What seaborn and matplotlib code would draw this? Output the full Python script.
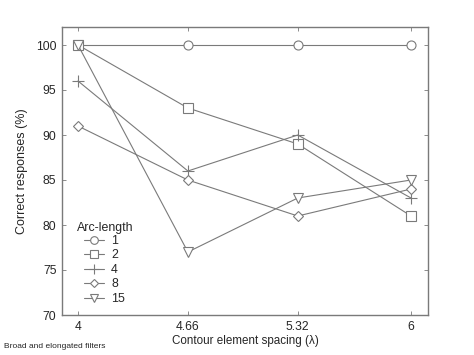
import pandas as pd
import numpy as np
import seaborn as sns
import matplotlib.pyplot as plt

spacing = [4, 4.66, 5.32, 6]
arc_lengths = ['1', '2', '4', '8', '15']
arc1 = [100, 100, 100, 100]
arc2 = [100, 93, 89, 81]
arc4 = [96, 86, 90, 83]
arc8 = [91, 85, 81, 84]
arc15 = [100, 77, 83, 85]

rows = []
for name, vals in zip(arc_lengths, [arc1, arc2, arc4, arc8, arc15]):
    for x, y in zip(spacing, vals):
        rows.append({'spacing': x, 'correct': y, 'Arc-length': name})
df = pd.DataFrame(rows)

sns.set_style('ticks')
plt.rcParams['font.family'] = ['Liberation Sans', 'DejaVu Sans']

W, H = 474, 355
fig = plt.figure(figsize=(W/100, H/100), dpi=100)
ax = fig.add_axes([62/W, 1-315/H, (428-62)/W, (315-27)/H])

grey = '#7a7a7a'
markers = {'1': 'o', '2': 's', '4': '+', '8': 'D', '15': 'v'}
msize = {'1': 6.5, '2': 6.5, '4': 8, '8': 5, '15': 7}
# seaborn won't mix filled and line markers in one call, so draw per group
for name in arc_lengths:
    sub = df[df['Arc-length'] == name]
    sns.lineplot(data=sub, x='spacing', y='correct', color=grey, marker=markers[name],
                 ax=ax, lw=0.8, markerfacecolor='white', markeredgecolor=grey,
                 markeredgewidth=0.8, markersize=msize[name], label=name)

ax.set_xlim(3.904, 6.102)
ax.set_ylim(70, 102)
ax.set_xticks(spacing)
ax.set_xticklabels(['4', '4.66', '5.32', '6'])
ax.set_yticks([70, 75, 80, 85, 90, 95, 100])
ax.tick_params(direction='in', top=True, right=True, labelsize=8.7, length=3, width=0.6, color=grey, pad=4)
for s in ax.spines.values():
    s.set_color(grey)
    s.set_linewidth(1.0)
ax.set_xlabel('Contour element spacing (\u03bb)', fontsize=8.4, labelpad=2)
ax.set_ylabel('Correct responses (%)', fontsize=9, labelpad=6)

leg = ax.legend(loc='upper left', bbox_to_anchor=(84/W, 1-235/H), bbox_transform=fig.transFigure,
                frameon=False, fontsize=8.9, handlelength=1.6, labelspacing=0.2, markerscale=0.85,
                handletextpad=0.6, borderaxespad=0, borderpad=0)
fig.text(77/W, 1-228/H, 'Arc-length', fontsize=8.9, va='center', ha='left')

fig.text(4/W, 1-347/H, 'Broad and elongated filters', fontsize=6, va='center')

fig.savefig('out.png', dpi=100)
